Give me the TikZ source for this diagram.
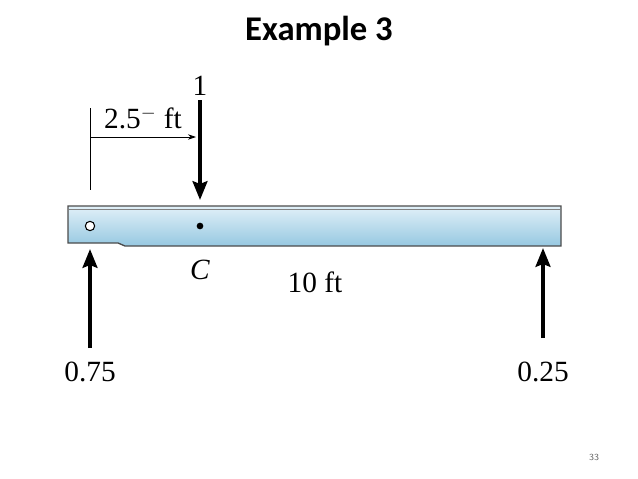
\documentclass[tikz,border=0pt]{standalone}
\usepackage{fontspec}
\setmainfont{Liberation Serif}
\newfontfamily\titlefont{Carlito}
\usetikzlibrary{arrows.meta}
\definecolor{beamtop}{RGB}{225,240,248}
\definecolor{beambot}{RGB}{150,200,225}
\begin{document}
\begin{tikzpicture}[x=0.75pt,y=-0.75pt,
  force/.style={line width=3pt,-{Stealth[length=14pt,width=11pt,inset=2pt]}},
  dim/.style={line width=0.6pt,-{Stealth[length=6pt,width=4pt]}},
  lbl/.style={font=\fontsize{22}{24}\selectfont}]
\useasboundingbox (0,0) rectangle (638,478);
\node[font=\titlefont\bfseries\fontsize{26}{30}\selectfont] (title) at (319,31) {Example 3};
% beam
\shade[top color=beamtop, bottom color=beambot]
  (68,206) -- (561,206) -- (561,246) -- (125,246) -- (118,243) -- (68,243) -- cycle;
\draw[line width=1pt, black!70] (68,206) -- (561,206) -- (561,246) -- (125,246) -- (118,243) -- (68,243) -- cycle;
\draw[black!50] (68,209) -- (561,209);
\node[circle, draw, fill=white, line width=0.8pt, inner sep=0pt, minimum size=7pt] (pin) at (90,226) {};
\node[circle, fill=black, inner sep=0pt, minimum size=5pt] (cdot) at (200,226) {};
% load
\coordinate (ltop) at (200,100);
\coordinate (lbot) at (200,200);
\draw[force] (ltop) -- (lbot);
\node[lbl] (one) at (200,86) {1};
% dimension
\coordinate (d1) at (90,108);
\coordinate (d2) at (90,190);
\draw[line width=0.6pt] (d1) -- (d2);
\coordinate (da) at (90,137);
\coordinate (db) at (196,137);
\draw[dim] (da) -- (db);
\node[lbl] (dimlbl) at (143,118) {2.5$^{-}$ ft};
\node[lbl, font=\itshape\fontsize{22}{24}\selectfont] (C) at (200,270) {C};
\node[lbl] (len) at (315,282) {10 ft};
% reactions
\coordinate (ra) at (90,348);
\coordinate (rat) at (90,249);
\draw[force] (ra) -- (rat);
\coordinate (rb) at (543,338);
\coordinate (rbt) at (543,248);
\draw[force] (rb) -- (rbt);
\node[lbl] (r1) at (90,372) {0.75};
\node[lbl] (r2) at (543,372) {0.25};
\node[font=\sffamily\scriptsize, text=black!60] (pg) at (594,457) {33};
\end{tikzpicture}
\end{document}
